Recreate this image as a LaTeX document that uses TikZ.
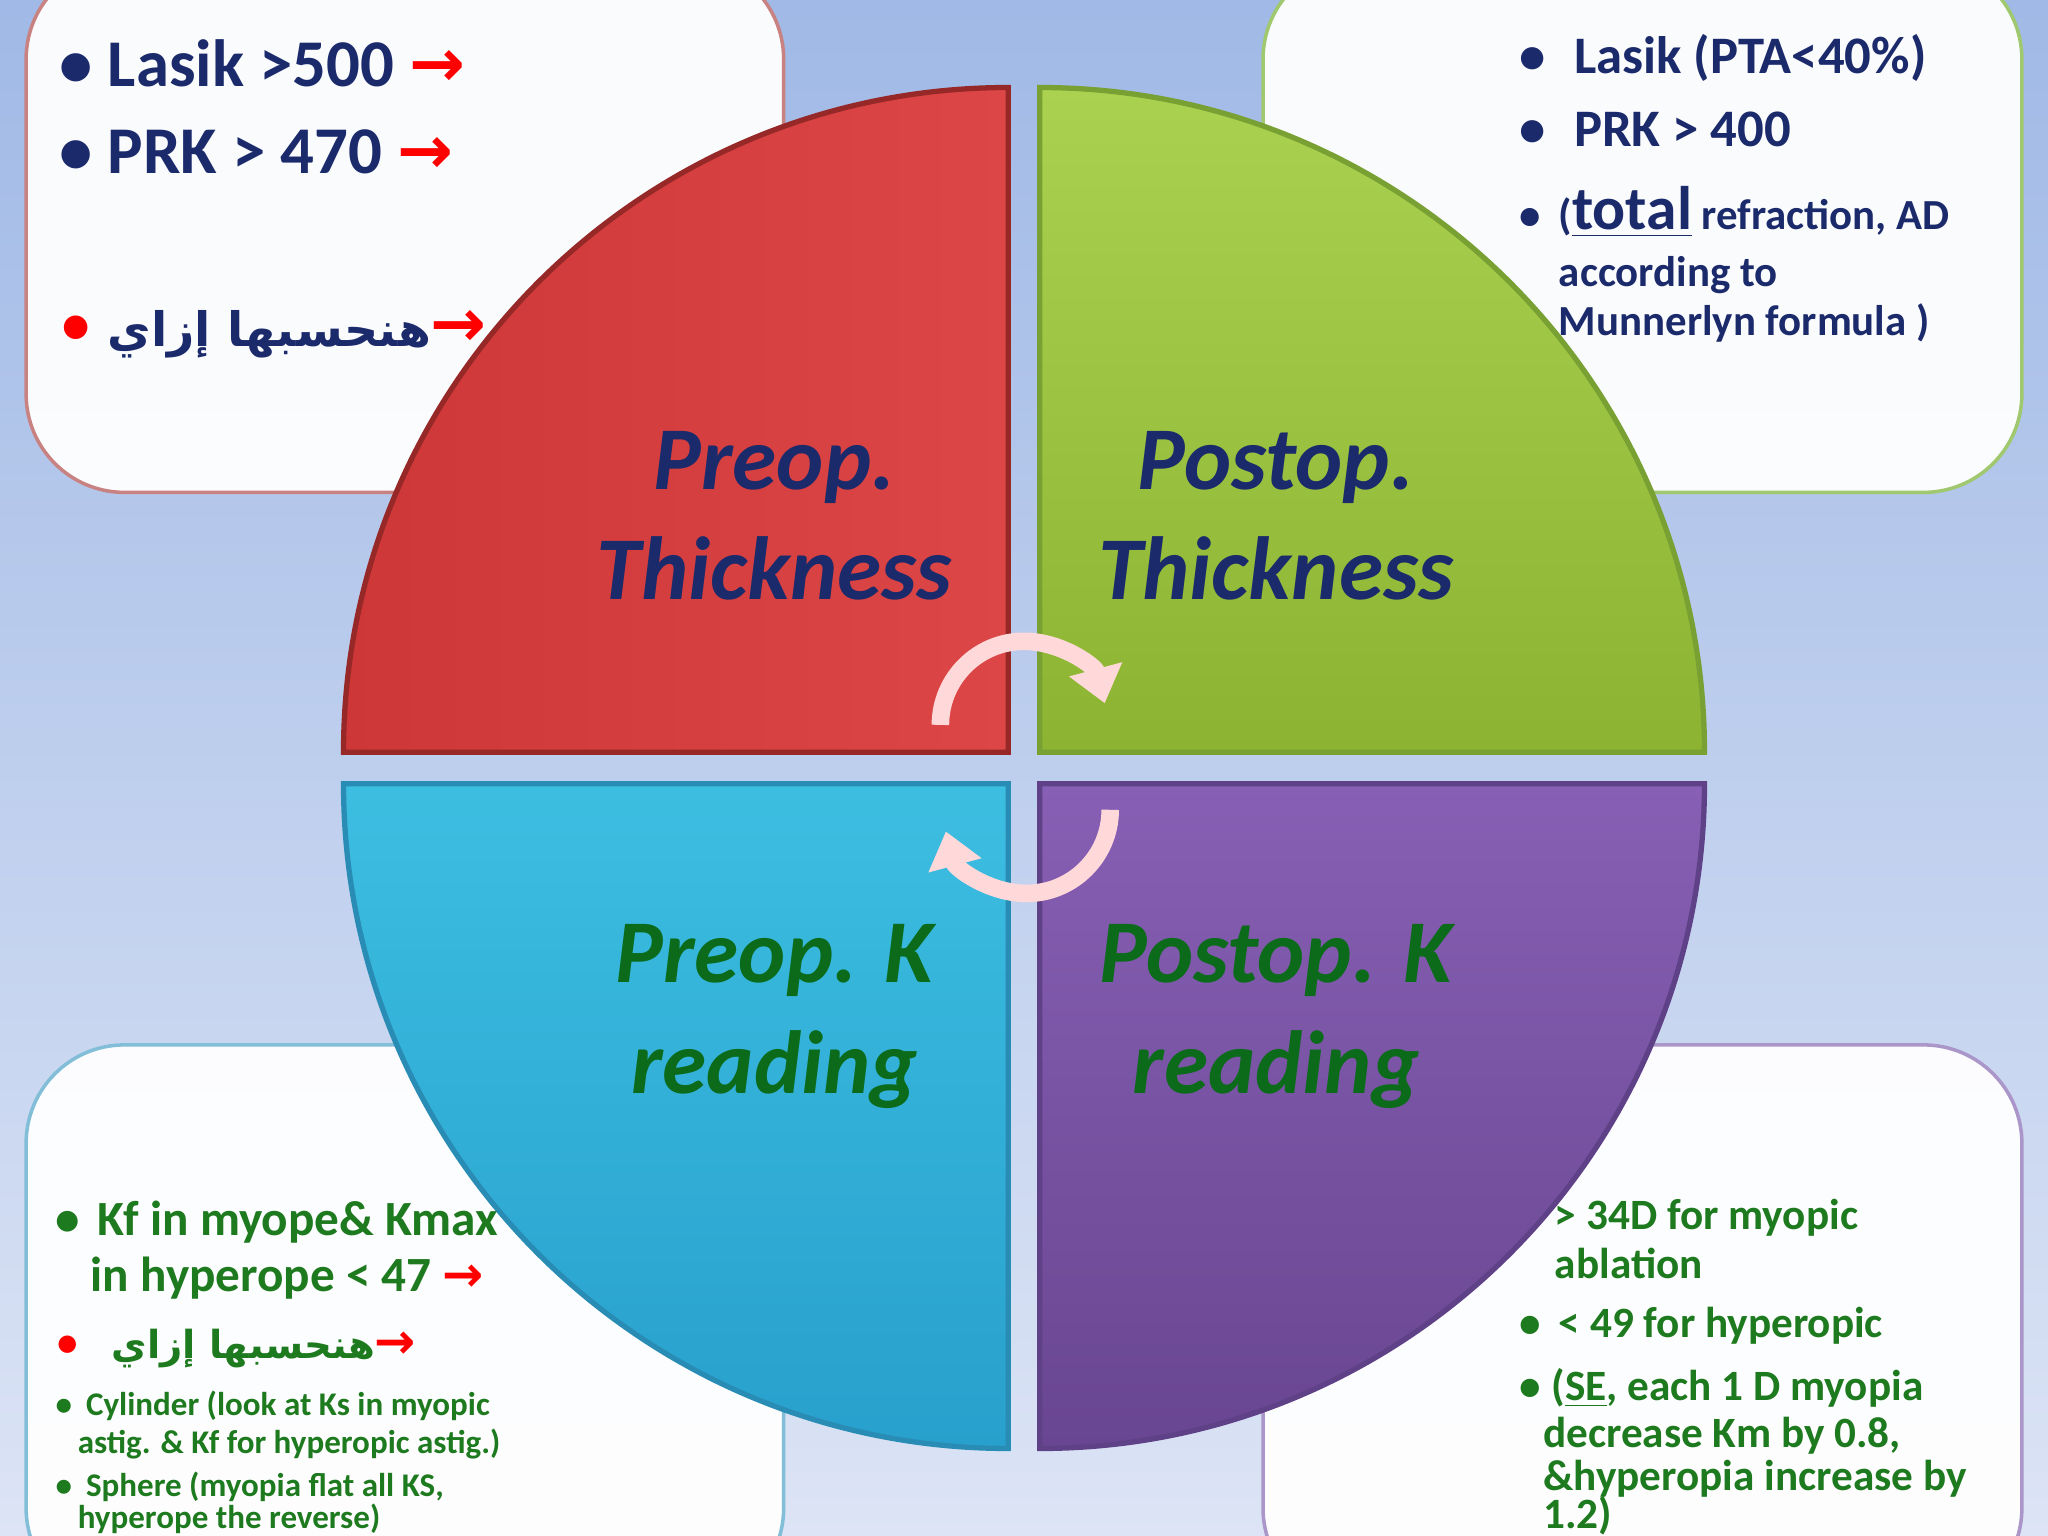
\documentclass[tikz,border=0pt]{standalone}
\usepackage{fontspec}
\setmainfont{Carlito}
\newfontfamily\dv{DejaVu Sans}
\newfontfamily\arabicfont[Script=Arabic]{DejaVu Sans}
\TeXXeTstate=1
\usetikzlibrary{arrows.meta}
\definecolor{navy}{HTML}{1B2A6B}
\definecolor{tgreen}{HTML}{1E7A1E}
\definecolor{qgreen}{HTML}{0B6B1A}
\newcommand{\ra}{{\dv\bfseries\textcolor{red}{→}}}
\newcommand{\fs}[1]{\fontsize{#1}{#1}\selectfont}
\begin{document}
\begin{tikzpicture}[x=0.01306cm,y=-0.01306cm,
  box/.style={rounded corners=28pt,fill=white,fill opacity=0.95,line width=1pt},
  tl/.style={anchor=base west,inner sep=0pt},
  qt/.style={align=center,font=\bfseries\itshape\fs{25.5}},
  carr/.style={line width=5pt,draw=white!85!red,-{Triangle[length=10pt,width=15pt]}}]
\shade[top color={rgb,255:red,160;green,185;blue,230},bottom color={rgb,255:red,220;green,228;blue,245}] (0,0) rectangle (1568,1176);
\useasboundingbox (0,0) rectangle (1568,1176);
\begin{scope}
\clip (0,0) rectangle (1568,1176);
\draw[box,draw={rgb,255:red,200;green,130;blue,130}] (20,-30) rectangle (600,377);
\draw[box,draw={rgb,255:red,160;green,200;blue,110}] (967,-30) rectangle (1548,377);
\draw[box,draw={rgb,255:red,130;green,190;blue,215}] (20,800) rectangle (600,1230);
\draw[box,draw={rgb,255:red,170;green,150;blue,200}] (967,800) rectangle (1548,1230);
% quadrants
\shade[left color={rgb,255:red,205;green,55;blue,55},right color={rgb,255:red,220;green,70;blue,70},draw={rgb,255:red,150;green,40;blue,40},line width=1.5pt]
 (772,576) -- (263,576) arc[start angle=180,end angle=270,radius=509] -- cycle;
\shade[top color={rgb,255:red,170;green,210;blue,80},bottom color={rgb,255:red,140;green,180;blue,50},draw={rgb,255:red,120;green,160;blue,50},line width=1.5pt]
 (796,576) -- (796,67) arc[start angle=270,end angle=360,radius=509] -- cycle;
\shade[top color={rgb,255:red,60;green,190;blue,225},bottom color={rgb,255:red,40;green,160;blue,205},draw={rgb,255:red,40;green,140;blue,180},line width=1.5pt]
 (772,600) -- (263,600) arc[start angle=180,end angle=90,radius=509] -- cycle;
\shade[top color={rgb,255:red,135;green,95;blue,180},bottom color={rgb,255:red,105;green,70;blue,145},draw={rgb,255:red,95;green,65;blue,135},line width=1.5pt]
 (796,600) -- (1305,600) arc[start angle=0,end angle=90,radius=509] -- cycle;
\node[qt,text=navy] (q1) at (593,395) {Preop.\\[6pt]Thickness};
\node[qt,text=navy] (q2) at (977,395) {Postop.\\[6pt]Thickness};
\node[qt,text=qgreen] (q3) at (593,778) {Preop. K\\[6pt]reading};
\node[qt,text=qgreen] (q4) at (977,778) {Postop. K\\[6pt]reading};
% curved arrows
\draw[carr] (720,555) arc[start angle=180,end angle=345,radius=64];
\draw[carr] (850,620) arc[start angle=0,end angle=165,radius=64];
% top-left
\node[tl,text=navy,font=\bfseries\fs{19}] (a1) at (45,66) {• Lasik >500 \ra};
\node[tl,text=navy,font=\bfseries\fs{19}] (a2) at (45,133) {• PRK > 470 \ra};
\node[tl,font=\fs{19}] (a3) at (45,265) {\textcolor{red}{•} \textcolor{navy}{\arabicfont\fs{13.5}\bfseries\beginR هنحسبها إزاي\endR}\ra};
% top-right
\node[tl,text=navy,font=\bfseries\fs{15}] (b1) at (1163,56) {•\hspace{8pt}Lasik (PTA<40\%)};
\node[tl,text=navy,font=\bfseries\fs{15}] (b2) at (1163,112) {•\hspace{8pt}PRK > 400};
\node[tl,text=navy,font=\bfseries\fs{12.2}] (b3) at (1163,176) {•\hspace{5pt}({\fs{17.5}\underline{total}} refraction, AD};
\node[tl,text=navy,font=\bfseries\fs{12.2}] (b4) at (1193,219) {according to};
\node[tl,text=navy,font=\bfseries\fs{12.2}] (b5) at (1193,257) {Munnerlyn formula )};
% bottom-left
\node[tl,text=tgreen,font=\bfseries\fs{14}] (c1) at (42,946) {•\hspace{5pt}Kf in myope\& Kmax};
\node[tl,text=tgreen,font=\bfseries\fs{14}] (c2) at (69,989) {in hyperope < 47 \ra};
\node[tl,font=\fs{14}] (c3) at (42,1040) {\textcolor{red}{•}\hspace{9pt}\textcolor{tgreen}{\arabicfont\fs{11}\bfseries\beginR هنحسبها إزاي\endR}\ra};
\node[tl,text=tgreen,font=\bfseries\fs{9.4}] (c4) at (42,1084) {•\hspace{4pt}Cylinder (look at Ks in myopic};
\node[tl,text=tgreen,font=\bfseries\fs{9.4}] (c5) at (59,1113) {astig. \& Kf for hyperopic astig.)};
\node[tl,text=tgreen,font=\bfseries\fs{9.4}] (c6) at (42,1146) {•\hspace{4pt}Sphere (myopia flat all KS,};
\node[tl,text=tgreen,font=\bfseries\fs{9.4}] (c7) at (59,1170) {hyperope the reverse)};
% bottom-right
\node[tl,text=tgreen,font=\bfseries\fs{12.3}] (d1) at (1190,941) {> 34D for myopic};
\node[tl,text=tgreen,font=\bfseries\fs{12.3}] (d2) at (1190,979) {ablation};
\node[tl,text=tgreen,font=\bfseries\fs{12.3}] (d3) at (1163,1024) {•\hspace{5pt}< 49 for hyperopic};
\node[tl,text=tgreen,font=\bfseries\fs{12.3}] (d4) at (1163,1072) {•\hspace{3pt}(\underline{SE}, each 1 D myopia};
\node[tl,text=tgreen,font=\bfseries\fs{12.3}] (d5) at (1181,1108) {decrease Km by 0.8,};
\node[tl,text=tgreen,font=\bfseries\fs{12.3}] (d6) at (1181,1141) {\&hyperopia increase by};
\node[tl,text=tgreen,font=\bfseries\fs{12.3}] (d7) at (1181,1170) {1.2)};
\end{scope}
\end{tikzpicture}
\end{document}
